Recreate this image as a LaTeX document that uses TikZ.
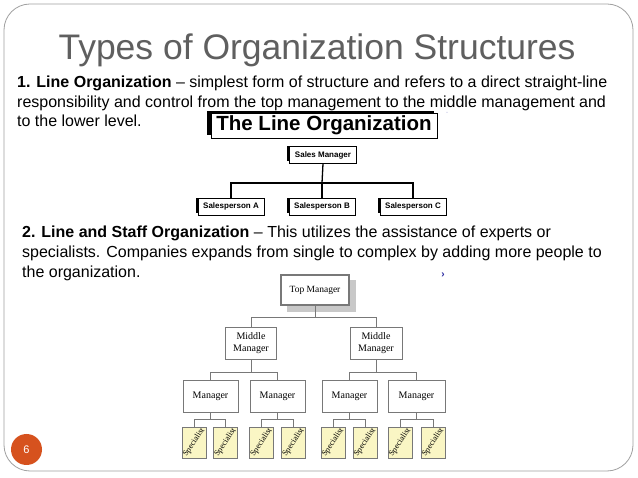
\documentclass[tikz,border=0pt]{standalone}
\usepackage{fontspec}
\setmainfont{Liberation Sans}
\newfontfamily\seriffont{Liberation Serif}
\definecolor{titlegray}{RGB}{95,95,95}
\definecolor{framegray}{RGB}{160,160,160}
\definecolor{boxgray}{RGB}{120,120,120}
\definecolor{shadegray}{RGB}{200,200,200}
\definecolor{specfill}{RGB}{250,246,196}
\definecolor{numorange}{RGB}{214,82,30}
\definecolor{linkblue}{RGB}{40,40,160}
\begin{document}
\begin{tikzpicture}[x=1pt,y=-1pt,
  bodytext/.style={anchor=base west,inner sep=0pt,font=\fontsize{16}{18}\selectfont},
  lobox/.style={draw=black,fill=white,line width=0.6pt,inner sep=0pt,font=\bfseries\fontsize{8}{9}\selectfont,minimum height=17,minimum width=#1},
  loconn/.style={draw=black,line width=1.3pt},
  lsbox/.style={draw=boxgray,fill=white,line width=0.6pt,inner sep=0pt,align=center,font=\seriffont\fontsize{10}{11.5}\selectfont,minimum height=32,minimum width=#1},
  specbox/.style={draw=boxgray,fill=specfill,line width=0.6pt,inner sep=0pt,minimum height=31,minimum width=23,font=\seriffont\fontsize{8.2}{8.5}\selectfont},
  lsconn/.style={draw=boxgray,line width=0.6pt}]
\useasboundingbox (0,0) rectangle (638,478);
\fill[white] (0,0) rectangle (638,478);
% slide frame
\draw[framegray,line width=0.8pt,rounded corners=26] (4,4) rectangle (633,471);
% title
\node[font=\fontsize{35.5}{40}\selectfont,text=titlegray,anchor=base,inner sep=0pt] (title) at (317,60) {Types of Organization Structures};
% text block 1
\node[bodytext] (t1a) at (17,88) {\textbf{1. Line Organization} -- simplest form of structure and refers to a direct straight-line};
\node[bodytext] (t1b) at (17,108) {responsibility and control from the top management to the middle management and};
\node[bodytext] (t1c) at (17,127) {to the lower level.};
% line organization chart
\fill[black] (207,111) rectangle (434,135);
\node[draw=black,fill=white,line width=0.6pt,inner sep=0pt,minimum width=226,minimum height=25,font=\bfseries\fontsize{20.5}{24}\selectfont] (lotitle) at (324,125.5) {The Line Organization};
\fill[black] (287,146) rectangle (354,161);
\node[lobox=67] (sm) at (323,155) {Sales Manager};
\fill[black] (196,198) rectangle (261,213);
\node[lobox=66] (sa) at (231,206.5) {Salesperson A};
\fill[black] (287,198) rectangle (352,213);
\node[lobox=66] (sb) at (322,206.5) {Salesperson B};
\fill[black] (378,198) rectangle (443,213);
\node[lobox=66] (sc) at (413,206.5) {Salesperson C};
\coordinate (lobus) at (322,183);
\draw[loconn] (sm.south) -- (lobus);
\draw[loconn] (lobus) -| (sa.north);
\draw[loconn] (lobus) -| (sc.north);
\draw[loconn] (lobus) -- (sb.north);
\node[text=linkblue,font=\fontsize{3}{3}\selectfont,inner sep=0pt] (dot) at (447,113) {''};
% text block 2
\node[bodytext] (t2a) at (22,238) {\textbf{2. Line and Staff Organization} -- This utilizes the assistance of experts or};
\node[bodytext] (t2b) at (22,258) {specialists. Companies expands from single to complex by adding more people to};
\node[bodytext] (t2c) at (22,278) {the organization.};
\node[text=linkblue,font=\bfseries\fontsize{10}{12}\selectfont,inner sep=0pt] (arrowmark) at (443,275) {›};
% line and staff chart
\fill[shadegray] (287,280) rectangle (356,312);
\node[draw=boxgray,line width=2pt,fill=white,inner sep=0pt,minimum width=68,minimum height=30,font=\seriffont\fontsize{9.5}{11}\selectfont] (tm) at (315,290) {Top Manager};
\node[lsbox=51] (mm1) at (251,343) {Middle\\Manager};
\node[lsbox=52] (mm2) at (376,343) {Middle\\Manager};
\coordinate (bus0) at (315,317);
\draw[lsconn] (tm.south) -- (bus0);
\draw[lsconn] (bus0) -| (mm1.north);
\draw[lsconn] (bus0) -| (mm2.north);
\node[lsbox=55] (m1) at (210.5,396) {Manager};
\node[lsbox=55] (m2) at (277.5,396) {Manager};
\node[lsbox=55] (m3) at (349.5,396) {Manager};
\node[lsbox=57] (m4) at (416.5,396) {Manager};
\coordinate (bus1) at (251,372);
\coordinate (bus2) at (376,372);
\draw[lsconn] (mm1.south) -- (bus1);
\draw[lsconn] (bus1) -| (m1.north);
\draw[lsconn] (bus1) -| (m2.north);
\draw[lsconn] (mm2.south) -- (bus2);
\draw[lsconn] (bus2) -| (m3.north);
\draw[lsconn] (bus2) -| (m4.north);
% specialists
\foreach \n/\x in {s1/194,s2/225.5,s3/261.5,s4/293.5,s5/333,s6/365,s7/400,s8/433}{
  \node[specbox] (\n) at (\x,442.5) {\rotatebox{56}{Specialist}};
}
\draw[lsconn] (m1.south) -- ++(0,7) coordinate (c1);
\draw[lsconn] (c1) -| (s1.north); \draw[lsconn] (c1) -| (s2.north);
\draw[lsconn] (m2.south) -- ++(0,7) coordinate (c2);
\draw[lsconn] (c2) -| (s3.north); \draw[lsconn] (c2) -| (s4.north);
\draw[lsconn] (m3.south) -- ++(0,7) coordinate (c3);
\draw[lsconn] (c3) -| (s5.north); \draw[lsconn] (c3) -| (s6.north);
\draw[lsconn] (m4.south) -- ++(0,7) coordinate (c4);
\draw[lsconn] (c4) -| (s7.north); \draw[lsconn] (c4) -| (s8.north);
% slide number
\node[circle,fill=numorange,minimum size=31,inner sep=0pt,text=white,font=\fontsize{11}{13}\selectfont] (num) at (26.5,449.5) {6};
\end{tikzpicture}
\end{document}
